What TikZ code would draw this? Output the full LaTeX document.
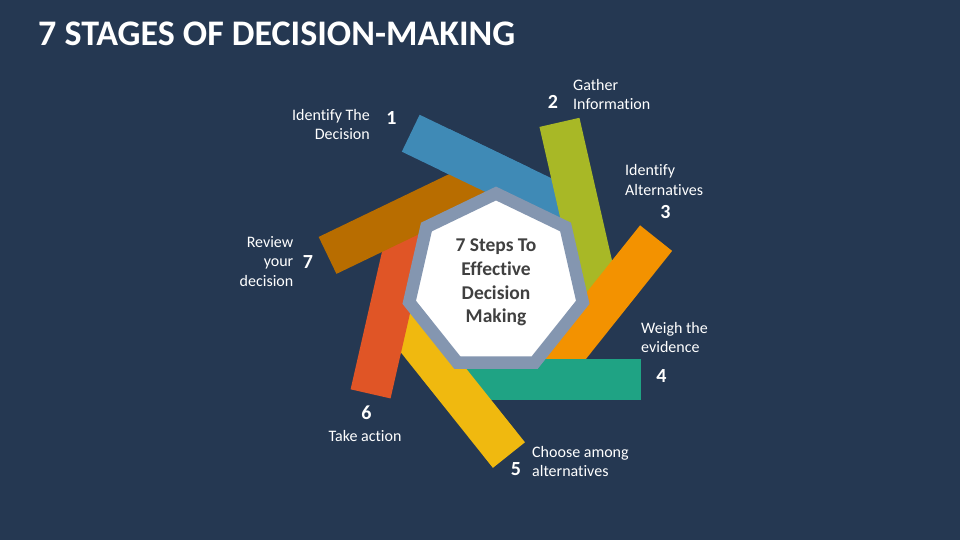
\documentclass[tikz,border=0pt]{standalone}
\usepackage{fontspec}
\setmainfont{Carlito}[Ligatures=NoCommon]
\usetikzlibrary{shapes.geometric}
\definecolor{bgnavy}{HTML}{253852}
\definecolor{stepblue}{HTML}{3F8AB6}
\definecolor{stepgreen}{HTML}{A8B826}
\definecolor{steporange}{HTML}{F39200}
\definecolor{stepteal}{HTML}{1FA384}
\definecolor{stepyellow}{HTML}{F0B90F}
\definecolor{stepred}{HTML}{E05526}
\definecolor{stepbrown}{HTML}{B86D00}
\definecolor{hubgray}{HTML}{8496B0}
\definecolor{hubtext}{HTML}{404040}
\begin{document}
\begin{tikzpicture}[x=1pt, y=1pt, every node/.style = {text=white, inner sep=0pt}]
	\tikzset{ steptext/.style = {font=\fontsize{16}{19.5}\selectfont},
		stepnum/.style = {font=\bfseries\fontsize{20}{24}\selectfont},
		stepbar/.style = {shift={(496,257.5)}, rotate=#1} }
	\fill[bgnavy] (0,0) rectangle (960,540);
	\node [anchor=west, font=\bfseries\fontsize{36}{43}\selectfont] (title) at (38,506) {7 STAGES OF DECISION-MAKING};
	% pinwheel bars, one every 360/7 degrees
	\foreach \k/\col/\len in {1/stepblue/141.6, 2/stepgreen/142, 3/steporange/134.5, 4/stepteal/145, 5/stepyellow/143, 6/stepred/136.5, 7/stepbrown/140}
		\fill[\col, stepbar={(4-\k)*360/7}] (-56,-118) rectangle (\len,-77);
	% bar 1 goes back over bar 7
	\begin{scope}
		\clip (440,325) rectangle (530,410);
		\fill[stepblue, stepbar=3*360/7] (-56,-118) rectangle (141.6,-77);
	\end{scope}
	\node [regular polygon, regular polygon sides=7, minimum size=178, fill=white, draw=hubgray, line width=12.5,
		text=hubtext, align=center, font=\bfseries\fontsize{19.5}{23.7}\selectfont] (hub) at (496,257.5) {7 Steps To\\Effective\\Decision\\Making};
	\node [stepnum] (n1) at (391.5,421.7) {1};
	\node [steptext, anchor=east, align=right] (t1) at (370,415.5) {Identify The\\Decision};
	\node [stepnum] (n2) at (553,438.5) {2};
	\node [steptext, anchor=west, align=left] (t2) at (573,445.5) {Gather\\Information};
	\node [steptext, anchor=west, align=left] (t3) at (625,360) {Identify\\Alternatives};
	\node [stepnum] (n3) at (665.5,327.5) {3};
	\node [steptext, anchor=west, align=left] (t4) at (641,202.5) {Weigh the\\evidence};
	\node [stepnum] (n4) at (661.5,163.5) {4};
	\node [stepnum] (n5) at (516,71) {5};
	\node [steptext, anchor=west, align=left] (t5) at (532,78.5) {Choose among\\alternatives};
	\node [stepnum] (n6) at (366.5,127.5) {6};
	\node [steptext] (t6) at (365,103.5) {Take action};
	\node [steptext, anchor=east, align=right] (t7) at (293.5,278.5) {Review\\your\\decision};
	\node [stepnum] (n7) at (308,278) {7};
\end{tikzpicture}
\end{document}
